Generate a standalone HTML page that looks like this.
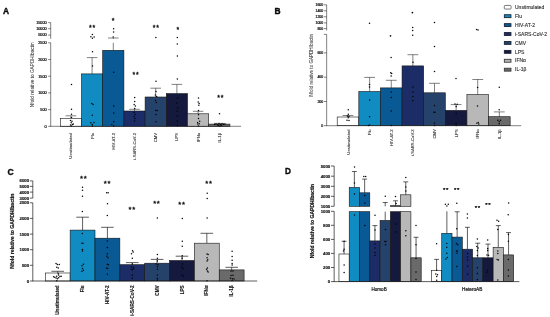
<!DOCTYPE html>
<html><head><meta charset="utf-8"><title>Figure</title>
<style>
html,body{margin:0;padding:0;background:#fff;}
body{width:550px;height:317px;overflow:hidden;}
svg{display:block;font-family:"Liberation Sans",sans-serif;}
</style></head><body>
<svg width="550" height="317" viewBox="0 0 550 317">
<rect x="0" y="0" width="550" height="317" fill="#ffffff"/>
<line x1="344.09" y1="241.30" x2="344.09" y2="254.00" stroke="#1a1a1a" stroke-width="0.7"/>
<line x1="341.64" y1="241.30" x2="346.54" y2="241.30" stroke="#1a1a1a" stroke-width="0.7"/>
<rect x="338.95" y="254.00" width="10.28" height="27.60" fill="#ffffff" stroke="#141414" stroke-width="0.6"/>
<line x1="354.37" y1="171.50" x2="354.37" y2="187.40" stroke="#1a1a1a" stroke-width="0.7"/>
<line x1="351.92" y1="171.50" x2="356.82" y2="171.50" stroke="#1a1a1a" stroke-width="0.7"/>
<rect x="349.23" y="211.70" width="10.28" height="69.90" fill="#108cc2" stroke="#141414" stroke-width="0.6"/>
<rect x="349.23" y="187.40" width="10.28" height="18.90" fill="#108cc2" stroke="#141414" stroke-width="0.6"/>
<line x1="364.65" y1="179.10" x2="364.65" y2="192.80" stroke="#1a1a1a" stroke-width="0.7"/>
<line x1="362.20" y1="179.10" x2="367.10" y2="179.10" stroke="#1a1a1a" stroke-width="0.7"/>
<rect x="359.51" y="211.70" width="10.28" height="69.90" fill="#095995" stroke="#141414" stroke-width="0.6"/>
<rect x="359.51" y="192.80" width="10.28" height="13.50" fill="#095995" stroke="#141414" stroke-width="0.6"/>
<line x1="374.93" y1="225.60" x2="374.93" y2="240.90" stroke="#1a1a1a" stroke-width="0.7"/>
<line x1="372.48" y1="225.60" x2="377.38" y2="225.60" stroke="#1a1a1a" stroke-width="0.7"/>
<rect x="369.79" y="240.90" width="10.28" height="40.70" fill="#1c2c67" stroke="#141414" stroke-width="0.6"/>
<line x1="385.21" y1="202.50" x2="385.21" y2="206.30" stroke="#1a1a1a" stroke-width="0.7"/>
<line x1="385.21" y1="211.70" x2="385.21" y2="220.40" stroke="#1a1a1a" stroke-width="0.7"/>
<line x1="382.76" y1="202.50" x2="387.66" y2="202.50" stroke="#1a1a1a" stroke-width="0.7"/>
<rect x="380.07" y="220.40" width="10.28" height="61.20" fill="#25426b" stroke="#141414" stroke-width="0.6"/>
<line x1="395.49" y1="200.80" x2="395.49" y2="205.70" stroke="#1a1a1a" stroke-width="0.7"/>
<line x1="393.04" y1="200.80" x2="397.94" y2="200.80" stroke="#1a1a1a" stroke-width="0.7"/>
<rect x="390.35" y="211.70" width="10.28" height="69.90" fill="#15193d" stroke="#141414" stroke-width="0.6"/>
<rect x="390.35" y="205.70" width="10.28" height="0.60" fill="#15193d" stroke="#141414" stroke-width="0.6"/>
<line x1="405.77" y1="181.90" x2="405.77" y2="194.80" stroke="#1a1a1a" stroke-width="0.7"/>
<line x1="403.32" y1="181.90" x2="408.22" y2="181.90" stroke="#1a1a1a" stroke-width="0.7"/>
<rect x="400.63" y="211.70" width="10.28" height="69.90" fill="#b8b8b8" stroke="#141414" stroke-width="0.6"/>
<rect x="400.63" y="194.80" width="10.28" height="11.50" fill="#b8b8b8" stroke="#141414" stroke-width="0.6"/>
<line x1="416.05" y1="237.30" x2="416.05" y2="257.80" stroke="#1a1a1a" stroke-width="0.7"/>
<line x1="413.60" y1="237.30" x2="418.50" y2="237.30" stroke="#1a1a1a" stroke-width="0.7"/>
<rect x="410.91" y="257.80" width="10.28" height="23.80" fill="#6a6a6a" stroke="#141414" stroke-width="0.6"/>
<line x1="436.59" y1="259.40" x2="436.59" y2="270.30" stroke="#1a1a1a" stroke-width="0.7"/>
<line x1="434.14" y1="259.40" x2="439.04" y2="259.40" stroke="#1a1a1a" stroke-width="0.7"/>
<rect x="431.45" y="270.30" width="10.28" height="11.30" fill="#ffffff" stroke="#141414" stroke-width="0.6"/>
<line x1="446.87" y1="211.30" x2="446.87" y2="233.30" stroke="#1a1a1a" stroke-width="0.7"/>
<rect x="441.73" y="233.30" width="10.28" height="48.30" fill="#108cc2" stroke="#141414" stroke-width="0.6"/>
<line x1="457.15" y1="211.80" x2="457.15" y2="237.10" stroke="#1a1a1a" stroke-width="0.7"/>
<line x1="454.70" y1="211.80" x2="459.60" y2="211.80" stroke="#1a1a1a" stroke-width="0.7"/>
<rect x="452.01" y="237.10" width="10.28" height="44.50" fill="#095995" stroke="#141414" stroke-width="0.6"/>
<line x1="467.43" y1="227.30" x2="467.43" y2="249.20" stroke="#1a1a1a" stroke-width="0.7"/>
<line x1="464.98" y1="227.30" x2="469.88" y2="227.30" stroke="#1a1a1a" stroke-width="0.7"/>
<rect x="462.29" y="249.20" width="10.28" height="32.40" fill="#1c2c67" stroke="#141414" stroke-width="0.6"/>
<line x1="477.71" y1="243.20" x2="477.71" y2="257.80" stroke="#1a1a1a" stroke-width="0.7"/>
<line x1="475.26" y1="243.20" x2="480.16" y2="243.20" stroke="#1a1a1a" stroke-width="0.7"/>
<rect x="472.57" y="257.80" width="10.28" height="23.80" fill="#25426b" stroke="#141414" stroke-width="0.6"/>
<line x1="487.99" y1="244.10" x2="487.99" y2="257.80" stroke="#1a1a1a" stroke-width="0.7"/>
<line x1="485.54" y1="244.10" x2="490.44" y2="244.10" stroke="#1a1a1a" stroke-width="0.7"/>
<rect x="482.85" y="257.80" width="10.28" height="23.80" fill="#15193d" stroke="#141414" stroke-width="0.6"/>
<line x1="498.27" y1="225.60" x2="498.27" y2="247.30" stroke="#1a1a1a" stroke-width="0.7"/>
<line x1="495.82" y1="225.60" x2="500.72" y2="225.60" stroke="#1a1a1a" stroke-width="0.7"/>
<rect x="493.13" y="247.30" width="10.28" height="34.30" fill="#b8b8b8" stroke="#141414" stroke-width="0.6"/>
<line x1="508.55" y1="232.60" x2="508.55" y2="254.90" stroke="#1a1a1a" stroke-width="0.7"/>
<line x1="506.10" y1="232.60" x2="511.00" y2="232.60" stroke="#1a1a1a" stroke-width="0.7"/>
<rect x="503.41" y="254.90" width="10.28" height="26.70" fill="#6a6a6a" stroke="#141414" stroke-width="0.6"/>
<line x1="70.90" y1="115.80" x2="70.90" y2="118.30" stroke="#1a1a1a" stroke-width="0.55"/>
<line x1="65.60" y1="115.80" x2="76.20" y2="115.80" stroke="#1a1a1a" stroke-width="0.55"/>
<rect x="60.30" y="118.30" width="21.20" height="8.00" fill="#ffffff" stroke="#141414" stroke-width="0.6"/>
<line x1="92.10" y1="57.60" x2="92.10" y2="73.90" stroke="#1a1a1a" stroke-width="0.55"/>
<line x1="86.80" y1="57.60" x2="97.40" y2="57.60" stroke="#1a1a1a" stroke-width="0.55"/>
<rect x="81.50" y="73.90" width="21.20" height="52.40" fill="#108cc2" stroke="#141414" stroke-width="0.6"/>
<line x1="113.30" y1="38.00" x2="113.30" y2="38.80" stroke="#1a1a1a" stroke-width="0.55"/>
<line x1="113.30" y1="42.80" x2="113.30" y2="50.30" stroke="#1a1a1a" stroke-width="0.55"/>
<line x1="108.00" y1="38.00" x2="118.60" y2="38.00" stroke="#1a1a1a" stroke-width="0.55"/>
<rect x="102.70" y="50.30" width="21.20" height="76.00" fill="#095995" stroke="#141414" stroke-width="0.6"/>
<line x1="134.50" y1="109.30" x2="134.50" y2="111.00" stroke="#1a1a1a" stroke-width="0.55"/>
<line x1="129.20" y1="109.30" x2="139.80" y2="109.30" stroke="#1a1a1a" stroke-width="0.55"/>
<rect x="123.90" y="111.00" width="21.20" height="15.30" fill="#1c2c67" stroke="#141414" stroke-width="0.6"/>
<line x1="155.70" y1="88.20" x2="155.70" y2="97.00" stroke="#1a1a1a" stroke-width="0.55"/>
<line x1="150.40" y1="88.20" x2="161.00" y2="88.20" stroke="#1a1a1a" stroke-width="0.55"/>
<rect x="145.10" y="97.00" width="21.20" height="29.30" fill="#25426b" stroke="#141414" stroke-width="0.6"/>
<line x1="176.90" y1="84.40" x2="176.90" y2="93.60" stroke="#1a1a1a" stroke-width="0.55"/>
<line x1="171.60" y1="84.40" x2="182.20" y2="84.40" stroke="#1a1a1a" stroke-width="0.55"/>
<rect x="166.30" y="93.60" width="21.20" height="32.70" fill="#15193d" stroke="#141414" stroke-width="0.6"/>
<line x1="198.10" y1="111.30" x2="198.10" y2="113.80" stroke="#1a1a1a" stroke-width="0.55"/>
<line x1="192.80" y1="111.30" x2="203.40" y2="111.30" stroke="#1a1a1a" stroke-width="0.55"/>
<rect x="187.50" y="113.80" width="21.20" height="12.50" fill="#b8b8b8" stroke="#141414" stroke-width="0.6"/>
<line x1="219.30" y1="123.40" x2="219.30" y2="124.10" stroke="#1a1a1a" stroke-width="0.55"/>
<line x1="214.00" y1="123.40" x2="224.60" y2="123.40" stroke="#1a1a1a" stroke-width="0.55"/>
<rect x="208.70" y="124.10" width="21.20" height="2.20" fill="#6a6a6a" stroke="#141414" stroke-width="0.6"/>
<circle cx="71.50" cy="84.40" r="0.75" fill="#050505"/>
<circle cx="71.50" cy="109.30" r="0.75" fill="#050505"/>
<circle cx="71.50" cy="114.20" r="0.75" fill="#050505"/>
<circle cx="71.50" cy="117.40" r="0.75" fill="#050505"/>
<circle cx="70.50" cy="120.50" r="0.75" fill="#050505"/>
<circle cx="72.00" cy="121.20" r="0.75" fill="#050505"/>
<circle cx="71.20" cy="122.80" r="0.75" fill="#050505"/>
<circle cx="72.40" cy="124.40" r="0.75" fill="#050505"/>
<circle cx="70.50" cy="125.00" r="0.75" fill="#050505"/>
<circle cx="73.30" cy="124.10" r="0.75" fill="#050505"/>
<circle cx="71.50" cy="125.90" r="0.75" fill="#050505"/>
<circle cx="92.40" cy="34.60" r="0.75" fill="#050505"/>
<circle cx="90.90" cy="36.70" r="0.75" fill="#050505"/>
<circle cx="94.10" cy="37.10" r="0.75" fill="#050505"/>
<circle cx="92.40" cy="38.30" r="0.75" fill="#050505"/>
<circle cx="92.50" cy="51.70" r="0.75" fill="#050505"/>
<circle cx="92.50" cy="65.90" r="0.75" fill="#050505"/>
<circle cx="91.80" cy="103.40" r="0.75" fill="#050505"/>
<circle cx="93.10" cy="104.60" r="0.75" fill="#050505"/>
<circle cx="92.30" cy="115.20" r="0.75" fill="#050505"/>
<circle cx="90.80" cy="122.80" r="0.75" fill="#050505"/>
<circle cx="94.00" cy="122.50" r="0.75" fill="#050505"/>
<circle cx="92.30" cy="124.40" r="0.75" fill="#050505"/>
<circle cx="92.30" cy="126.00" r="0.75" fill="#050505"/>
<circle cx="113.60" cy="28.80" r="0.75" fill="#050505"/>
<circle cx="113.60" cy="31.90" r="0.75" fill="#050505"/>
<circle cx="113.20" cy="37.10" r="0.75" fill="#050505"/>
<circle cx="113.70" cy="72.30" r="0.75" fill="#050505"/>
<circle cx="113.70" cy="105.90" r="0.75" fill="#050505"/>
<circle cx="113.70" cy="112.90" r="0.75" fill="#050505"/>
<circle cx="113.70" cy="121.80" r="0.75" fill="#050505"/>
<circle cx="111.80" cy="124.40" r="0.75" fill="#050505"/>
<circle cx="113.70" cy="126.00" r="0.75" fill="#050505"/>
<circle cx="134.70" cy="97.60" r="0.75" fill="#050505"/>
<circle cx="134.70" cy="101.50" r="0.75" fill="#050505"/>
<circle cx="134.10" cy="104.60" r="0.75" fill="#050505"/>
<circle cx="135.40" cy="105.90" r="0.75" fill="#050505"/>
<circle cx="134.70" cy="108.50" r="0.75" fill="#050505"/>
<circle cx="134.20" cy="112.50" r="0.75" fill="#050505"/>
<circle cx="135.20" cy="114.50" r="0.75" fill="#050505"/>
<circle cx="134.00" cy="116.50" r="0.75" fill="#050505"/>
<circle cx="134.90" cy="118.50" r="0.75" fill="#050505"/>
<circle cx="134.50" cy="121.00" r="0.75" fill="#050505"/>
<circle cx="155.90" cy="37.40" r="0.75" fill="#050505"/>
<circle cx="156.00" cy="81.20" r="0.75" fill="#050505"/>
<circle cx="156.00" cy="91.50" r="0.75" fill="#050505"/>
<circle cx="155.40" cy="95.00" r="0.75" fill="#050505"/>
<circle cx="156.60" cy="96.50" r="0.75" fill="#050505"/>
<circle cx="155.50" cy="100.50" r="0.75" fill="#050505"/>
<circle cx="156.30" cy="102.50" r="0.75" fill="#050505"/>
<circle cx="155.80" cy="110.50" r="0.75" fill="#050505"/>
<circle cx="157.20" cy="110.50" r="0.75" fill="#050505"/>
<circle cx="155.90" cy="114.50" r="0.75" fill="#050505"/>
<circle cx="155.90" cy="121.80" r="0.75" fill="#050505"/>
<circle cx="177.30" cy="37.60" r="0.75" fill="#050505"/>
<circle cx="177.30" cy="44.00" r="0.75" fill="#050505"/>
<circle cx="177.40" cy="56.00" r="0.75" fill="#050505"/>
<circle cx="177.40" cy="79.00" r="0.75" fill="#050505"/>
<circle cx="177.50" cy="98.00" r="0.75" fill="#050505"/>
<circle cx="176.80" cy="103.00" r="0.75" fill="#050505"/>
<circle cx="177.60" cy="108.00" r="0.75" fill="#050505"/>
<circle cx="177.00" cy="111.00" r="0.75" fill="#050505"/>
<circle cx="177.40" cy="116.00" r="0.75" fill="#050505"/>
<circle cx="177.40" cy="121.00" r="0.75" fill="#050505"/>
<circle cx="177.40" cy="125.50" r="0.75" fill="#050505"/>
<circle cx="198.50" cy="97.90" r="0.75" fill="#050505"/>
<circle cx="198.20" cy="102.10" r="0.75" fill="#050505"/>
<circle cx="199.10" cy="103.40" r="0.75" fill="#050505"/>
<circle cx="198.80" cy="105.30" r="0.75" fill="#050505"/>
<circle cx="198.50" cy="110.40" r="0.75" fill="#050505"/>
<circle cx="198.50" cy="114.80" r="0.75" fill="#050505"/>
<circle cx="198.50" cy="118.60" r="0.75" fill="#050505"/>
<circle cx="197.60" cy="122.50" r="0.75" fill="#050505"/>
<circle cx="199.70" cy="121.20" r="0.75" fill="#050505"/>
<circle cx="197.80" cy="124.10" r="0.75" fill="#050505"/>
<circle cx="199.30" cy="123.80" r="0.75" fill="#050505"/>
<circle cx="198.50" cy="126.00" r="0.75" fill="#050505"/>
<circle cx="219.50" cy="113.80" r="0.75" fill="#050505"/>
<circle cx="214.50" cy="124.60" r="0.75" fill="#050505"/>
<circle cx="216.00" cy="124.00" r="0.75" fill="#050505"/>
<circle cx="217.50" cy="124.80" r="0.75" fill="#050505"/>
<circle cx="219.00" cy="123.60" r="0.75" fill="#050505"/>
<circle cx="220.50" cy="124.50" r="0.75" fill="#050505"/>
<circle cx="222.00" cy="123.80" r="0.75" fill="#050505"/>
<circle cx="223.50" cy="124.60" r="0.75" fill="#050505"/>
<circle cx="225.00" cy="124.00" r="0.75" fill="#050505"/>
<circle cx="218.20" cy="125.60" r="0.75" fill="#050505"/>
<circle cx="221.30" cy="125.60" r="0.75" fill="#050505"/>
<circle cx="219.80" cy="125.90" r="0.75" fill="#050505"/>
<text x="92.40" y="29.95" font-size="6.9" text-anchor="middle" font-weight="normal" fill="#0a0a0a" letter-spacing="0.8" stroke="#0a0a0a" stroke-width="0.3">**</text>
<text x="113.20" y="23.35" font-size="6.9" text-anchor="middle" font-weight="normal" fill="#0a0a0a" letter-spacing="0" stroke="#0a0a0a" stroke-width="0.3">*</text>
<text x="136.10" y="77.25" font-size="6.9" text-anchor="middle" font-weight="normal" fill="#0a0a0a" letter-spacing="0.8" stroke="#0a0a0a" stroke-width="0.3">**</text>
<text x="156.20" y="30.25" font-size="6.9" text-anchor="middle" font-weight="normal" fill="#0a0a0a" letter-spacing="0.8" stroke="#0a0a0a" stroke-width="0.3">**</text>
<text x="177.80" y="31.65" font-size="6.9" text-anchor="middle" font-weight="normal" fill="#0a0a0a" letter-spacing="0" stroke="#0a0a0a" stroke-width="0.3">*</text>
<text x="220.70" y="100.45" font-size="6.9" text-anchor="middle" font-weight="normal" fill="#0a0a0a" letter-spacing="0.8" stroke="#0a0a0a" stroke-width="0.3">**</text>
<line x1="348.01" y1="115.50" x2="348.01" y2="117.00" stroke="#1a1a1a" stroke-width="0.55"/>
<line x1="342.61" y1="115.50" x2="353.41" y2="115.50" stroke="#1a1a1a" stroke-width="0.55"/>
<rect x="337.20" y="117.00" width="21.62" height="8.70" fill="#ffffff" stroke="#141414" stroke-width="0.6"/>
<line x1="369.63" y1="77.40" x2="369.63" y2="91.50" stroke="#1a1a1a" stroke-width="0.55"/>
<line x1="364.23" y1="77.40" x2="375.03" y2="77.40" stroke="#1a1a1a" stroke-width="0.55"/>
<rect x="358.82" y="91.50" width="21.62" height="34.20" fill="#108cc2" stroke="#141414" stroke-width="0.6"/>
<line x1="391.25" y1="80.30" x2="391.25" y2="87.90" stroke="#1a1a1a" stroke-width="0.55"/>
<line x1="385.85" y1="80.30" x2="396.65" y2="80.30" stroke="#1a1a1a" stroke-width="0.55"/>
<rect x="380.44" y="87.90" width="21.62" height="37.80" fill="#095995" stroke="#141414" stroke-width="0.6"/>
<line x1="412.87" y1="54.70" x2="412.87" y2="65.90" stroke="#1a1a1a" stroke-width="0.55"/>
<line x1="407.47" y1="54.70" x2="418.27" y2="54.70" stroke="#1a1a1a" stroke-width="0.55"/>
<rect x="402.06" y="65.90" width="21.62" height="59.80" fill="#1c2c67" stroke="#141414" stroke-width="0.6"/>
<line x1="434.49" y1="83.30" x2="434.49" y2="92.80" stroke="#1a1a1a" stroke-width="0.55"/>
<line x1="429.09" y1="83.30" x2="439.89" y2="83.30" stroke="#1a1a1a" stroke-width="0.55"/>
<rect x="423.68" y="92.80" width="21.62" height="32.90" fill="#25426b" stroke="#141414" stroke-width="0.6"/>
<line x1="456.11" y1="104.60" x2="456.11" y2="110.40" stroke="#1a1a1a" stroke-width="0.55"/>
<line x1="450.71" y1="104.60" x2="461.51" y2="104.60" stroke="#1a1a1a" stroke-width="0.55"/>
<rect x="445.30" y="110.40" width="21.62" height="15.30" fill="#15193d" stroke="#141414" stroke-width="0.6"/>
<line x1="477.73" y1="79.50" x2="477.73" y2="94.50" stroke="#1a1a1a" stroke-width="0.55"/>
<line x1="472.33" y1="79.50" x2="483.13" y2="79.50" stroke="#1a1a1a" stroke-width="0.55"/>
<rect x="466.92" y="94.50" width="21.62" height="31.20" fill="#b8b8b8" stroke="#141414" stroke-width="0.6"/>
<line x1="499.35" y1="111.90" x2="499.35" y2="116.70" stroke="#1a1a1a" stroke-width="0.55"/>
<line x1="493.95" y1="111.90" x2="504.75" y2="111.90" stroke="#1a1a1a" stroke-width="0.55"/>
<rect x="488.54" y="116.70" width="21.62" height="9.00" fill="#6a6a6a" stroke="#141414" stroke-width="0.6"/>
<circle cx="348.30" cy="109.70" r="0.75" fill="#050505"/>
<circle cx="348.30" cy="114.20" r="0.75" fill="#050505"/>
<circle cx="347.40" cy="116.10" r="0.75" fill="#050505"/>
<circle cx="349.00" cy="116.50" r="0.75" fill="#050505"/>
<circle cx="348.30" cy="117.70" r="0.75" fill="#050505"/>
<circle cx="347.00" cy="120.30" r="0.75" fill="#050505"/>
<circle cx="349.00" cy="120.50" r="0.75" fill="#050505"/>
<circle cx="369.50" cy="23.20" r="0.75" fill="#050505"/>
<circle cx="369.50" cy="84.40" r="0.75" fill="#050505"/>
<circle cx="369.50" cy="86.90" r="0.75" fill="#050505"/>
<circle cx="369.60" cy="99.90" r="0.75" fill="#050505"/>
<circle cx="369.60" cy="116.70" r="0.75" fill="#050505"/>
<circle cx="369.60" cy="125.00" r="0.75" fill="#050505"/>
<circle cx="368.40" cy="125.60" r="0.75" fill="#050505"/>
<circle cx="390.50" cy="35.90" r="0.8" fill="#050505"/>
<circle cx="391.10" cy="57.60" r="0.75" fill="#050505"/>
<circle cx="390.70" cy="72.70" r="0.75" fill="#050505"/>
<circle cx="391.70" cy="73.50" r="0.75" fill="#050505"/>
<circle cx="391.10" cy="76.10" r="0.75" fill="#050505"/>
<circle cx="391.20" cy="91.90" r="0.75" fill="#050505"/>
<circle cx="391.20" cy="97.60" r="0.75" fill="#050505"/>
<circle cx="391.20" cy="111.00" r="0.75" fill="#050505"/>
<circle cx="391.20" cy="125.60" r="0.75" fill="#050505"/>
<circle cx="412.40" cy="12.60" r="0.85" fill="#050505"/>
<circle cx="412.70" cy="27.50" r="0.75" fill="#050505"/>
<circle cx="412.70" cy="30.50" r="0.75" fill="#050505"/>
<circle cx="412.70" cy="35.30" r="0.75" fill="#050505"/>
<circle cx="413.00" cy="62.30" r="0.75" fill="#050505"/>
<circle cx="413.00" cy="86.90" r="0.75" fill="#050505"/>
<circle cx="412.80" cy="91.90" r="0.75" fill="#050505"/>
<circle cx="412.80" cy="96.40" r="0.75" fill="#050505"/>
<circle cx="412.80" cy="100.80" r="0.75" fill="#050505"/>
<circle cx="434.50" cy="22.50" r="0.75" fill="#050505"/>
<circle cx="434.50" cy="46.50" r="0.75" fill="#050505"/>
<circle cx="434.50" cy="71.40" r="0.75" fill="#050505"/>
<circle cx="434.50" cy="105.50" r="0.75" fill="#050505"/>
<circle cx="434.00" cy="112.30" r="0.75" fill="#050505"/>
<circle cx="435.00" cy="112.30" r="0.75" fill="#050505"/>
<circle cx="434.50" cy="123.10" r="0.75" fill="#050505"/>
<circle cx="434.50" cy="125.60" r="0.75" fill="#050505"/>
<circle cx="456.00" cy="78.60" r="0.75" fill="#050505"/>
<circle cx="455.00" cy="104.00" r="0.75" fill="#050505"/>
<circle cx="457.20" cy="104.30" r="0.75" fill="#050505"/>
<circle cx="456.20" cy="106.50" r="0.75" fill="#050505"/>
<circle cx="456.20" cy="113.50" r="0.75" fill="#050505"/>
<circle cx="456.20" cy="123.30" r="0.75" fill="#050505"/>
<circle cx="456.20" cy="125.60" r="0.75" fill="#050505"/>
<circle cx="476.60" cy="29.60" r="0.75" fill="#050505"/>
<circle cx="478.00" cy="29.90" r="0.75" fill="#050505"/>
<circle cx="477.60" cy="87.50" r="0.75" fill="#050505"/>
<circle cx="477.50" cy="105.90" r="0.75" fill="#050505"/>
<circle cx="476.90" cy="123.30" r="0.75" fill="#050505"/>
<circle cx="478.20" cy="122.50" r="0.75" fill="#050505"/>
<circle cx="478.80" cy="124.10" r="0.75" fill="#050505"/>
<circle cx="499.30" cy="87.20" r="0.75" fill="#050505"/>
<circle cx="499.20" cy="109.70" r="0.75" fill="#050505"/>
<circle cx="497.90" cy="120.30" r="0.75" fill="#050505"/>
<circle cx="500.50" cy="120.30" r="0.75" fill="#050505"/>
<circle cx="499.20" cy="121.80" r="0.75" fill="#050505"/>
<circle cx="499.20" cy="123.70" r="0.75" fill="#050505"/>
<line x1="57.72" y1="271.30" x2="57.72" y2="273.00" stroke="#1a1a1a" stroke-width="0.7"/>
<line x1="51.42" y1="271.30" x2="64.02" y2="271.30" stroke="#1a1a1a" stroke-width="0.7"/>
<rect x="45.30" y="273.00" width="24.85" height="8.00" fill="#ffffff" stroke="#141414" stroke-width="0.6"/>
<line x1="82.58" y1="217.20" x2="82.58" y2="230.10" stroke="#1a1a1a" stroke-width="0.7"/>
<line x1="76.28" y1="217.20" x2="88.88" y2="217.20" stroke="#1a1a1a" stroke-width="0.7"/>
<rect x="70.15" y="230.10" width="24.85" height="50.90" fill="#108cc2" stroke="#141414" stroke-width="0.6"/>
<line x1="107.42" y1="227.30" x2="107.42" y2="238.20" stroke="#1a1a1a" stroke-width="0.7"/>
<line x1="101.12" y1="227.30" x2="113.72" y2="227.30" stroke="#1a1a1a" stroke-width="0.7"/>
<rect x="95.00" y="238.20" width="24.85" height="42.80" fill="#095995" stroke="#141414" stroke-width="0.6"/>
<line x1="132.28" y1="262.60" x2="132.28" y2="264.70" stroke="#1a1a1a" stroke-width="0.7"/>
<line x1="125.98" y1="262.60" x2="138.58" y2="262.60" stroke="#1a1a1a" stroke-width="0.7"/>
<rect x="119.85" y="264.70" width="24.85" height="16.30" fill="#1c2c67" stroke="#141414" stroke-width="0.6"/>
<line x1="157.12" y1="259.40" x2="157.12" y2="263.20" stroke="#1a1a1a" stroke-width="0.7"/>
<line x1="150.82" y1="259.40" x2="163.43" y2="259.40" stroke="#1a1a1a" stroke-width="0.7"/>
<rect x="144.70" y="263.20" width="24.85" height="17.80" fill="#25426b" stroke="#141414" stroke-width="0.6"/>
<line x1="181.98" y1="256.20" x2="181.98" y2="260.50" stroke="#1a1a1a" stroke-width="0.7"/>
<line x1="175.68" y1="256.20" x2="188.28" y2="256.20" stroke="#1a1a1a" stroke-width="0.7"/>
<rect x="169.55" y="260.50" width="24.85" height="20.50" fill="#15193d" stroke="#141414" stroke-width="0.6"/>
<line x1="206.83" y1="233.30" x2="206.83" y2="243.20" stroke="#1a1a1a" stroke-width="0.7"/>
<line x1="200.53" y1="233.30" x2="213.13" y2="233.30" stroke="#1a1a1a" stroke-width="0.7"/>
<rect x="194.40" y="243.20" width="24.85" height="37.80" fill="#b8b8b8" stroke="#141414" stroke-width="0.6"/>
<line x1="231.68" y1="267.30" x2="231.68" y2="269.90" stroke="#1a1a1a" stroke-width="0.7"/>
<line x1="225.38" y1="267.30" x2="237.98" y2="267.30" stroke="#1a1a1a" stroke-width="0.7"/>
<rect x="219.25" y="269.90" width="24.85" height="11.10" fill="#6a6a6a" stroke="#141414" stroke-width="0.6"/>
<circle cx="56.09" cy="263.45" r="0.75" fill="#050505"/>
<circle cx="57.36" cy="264.47" r="0.75" fill="#050505"/>
<circle cx="59.27" cy="264.47" r="0.75" fill="#050505"/>
<circle cx="56.73" cy="267.27" r="0.75" fill="#050505"/>
<circle cx="58.26" cy="267.91" r="0.75" fill="#050505"/>
<circle cx="58.26" cy="273.64" r="0.75" fill="#050505"/>
<circle cx="58.64" cy="274.91" r="0.75" fill="#050505"/>
<circle cx="53.55" cy="276.82" r="0.75" fill="#050505"/>
<circle cx="54.82" cy="277.20" r="0.75" fill="#050505"/>
<circle cx="56.73" cy="276.18" r="0.75" fill="#050505"/>
<circle cx="59.91" cy="276.44" r="0.75" fill="#050505"/>
<circle cx="61.18" cy="276.18" r="0.75" fill="#050505"/>
<circle cx="56.09" cy="278.09" r="0.75" fill="#050505"/>
<circle cx="57.36" cy="278.73" r="0.75" fill="#050505"/>
<circle cx="58.64" cy="277.84" r="0.75" fill="#050505"/>
<circle cx="56.73" cy="280.64" r="0.75" fill="#050505"/>
<circle cx="82.44" cy="249.45" r="0.75" fill="#050505"/>
<circle cx="82.44" cy="251.11" r="0.75" fill="#050505"/>
<circle cx="83.46" cy="264.35" r="0.75" fill="#050505"/>
<circle cx="81.93" cy="265.75" r="0.75" fill="#050505"/>
<circle cx="82.44" cy="268.55" r="0.75" fill="#050505"/>
<circle cx="83.46" cy="270.20" r="0.75" fill="#050505"/>
<circle cx="81.93" cy="271.35" r="0.75" fill="#050505"/>
<circle cx="82.40" cy="211.60" r="0.75" fill="#050505"/>
<circle cx="82.40" cy="233.60" r="0.75" fill="#050505"/>
<circle cx="81.90" cy="243.20" r="0.75" fill="#050505"/>
<circle cx="83.00" cy="243.20" r="0.75" fill="#050505"/>
<circle cx="82.50" cy="187.30" r="0.75" fill="#050505"/>
<circle cx="82.50" cy="190.20" r="0.75" fill="#050505"/>
<circle cx="82.50" cy="196.20" r="0.75" fill="#050505"/>
<circle cx="107.35" cy="247.55" r="0.75" fill="#050505"/>
<circle cx="107.35" cy="253.65" r="0.75" fill="#050505"/>
<circle cx="106.84" cy="256.20" r="0.75" fill="#050505"/>
<circle cx="108.11" cy="257.73" r="0.75" fill="#050505"/>
<circle cx="107.35" cy="264.35" r="0.75" fill="#050505"/>
<circle cx="108.36" cy="264.73" r="0.75" fill="#050505"/>
<circle cx="106.45" cy="267.91" r="0.75" fill="#050505"/>
<circle cx="107.73" cy="268.55" r="0.75" fill="#050505"/>
<circle cx="107.35" cy="274.27" r="0.75" fill="#050505"/>
<circle cx="107.30" cy="215.40" r="0.75" fill="#050505"/>
<circle cx="106.70" cy="192.70" r="0.75" fill="#050505"/>
<circle cx="108.10" cy="192.70" r="0.75" fill="#050505"/>
<circle cx="107.50" cy="203.80" r="0.75" fill="#050505"/>
<circle cx="107.30" cy="241.00" r="0.75" fill="#050505"/>
<circle cx="132.55" cy="250.73" r="0.75" fill="#050505"/>
<circle cx="133.18" cy="252.00" r="0.75" fill="#050505"/>
<circle cx="131.53" cy="253.65" r="0.75" fill="#050505"/>
<circle cx="132.29" cy="258.36" r="0.75" fill="#050505"/>
<circle cx="132.29" cy="264.09" r="0.75" fill="#050505"/>
<circle cx="131.27" cy="266.64" r="0.75" fill="#050505"/>
<circle cx="133.18" cy="267.27" r="0.75" fill="#050505"/>
<circle cx="131.27" cy="269.18" r="0.75" fill="#050505"/>
<circle cx="132.55" cy="269.82" r="0.75" fill="#050505"/>
<circle cx="133.82" cy="268.55" r="0.75" fill="#050505"/>
<circle cx="132.29" cy="274.91" r="0.75" fill="#050505"/>
<circle cx="132.29" cy="278.35" r="0.75" fill="#050505"/>
<circle cx="157.36" cy="254.55" r="0.75" fill="#050505"/>
<circle cx="157.36" cy="258.36" r="0.75" fill="#050505"/>
<circle cx="157.36" cy="260.91" r="0.75" fill="#050505"/>
<circle cx="156.09" cy="264.09" r="0.75" fill="#050505"/>
<circle cx="158.00" cy="264.73" r="0.75" fill="#050505"/>
<circle cx="157.36" cy="266.64" r="0.75" fill="#050505"/>
<circle cx="157.36" cy="269.18" r="0.75" fill="#050505"/>
<circle cx="157.36" cy="274.91" r="0.75" fill="#050505"/>
<circle cx="157.36" cy="278.35" r="0.75" fill="#050505"/>
<circle cx="157.36" cy="280.00" r="0.75" fill="#050505"/>
<circle cx="157.40" cy="218.00" r="0.75" fill="#050505"/>
<circle cx="182.27" cy="246.27" r="0.75" fill="#050505"/>
<circle cx="182.27" cy="255.82" r="0.75" fill="#050505"/>
<circle cx="182.27" cy="258.36" r="0.75" fill="#050505"/>
<circle cx="182.65" cy="264.09" r="0.75" fill="#050505"/>
<circle cx="181.89" cy="267.27" r="0.75" fill="#050505"/>
<circle cx="182.91" cy="268.55" r="0.75" fill="#050505"/>
<circle cx="181.89" cy="274.91" r="0.75" fill="#050505"/>
<circle cx="183.16" cy="276.18" r="0.75" fill="#050505"/>
<circle cx="182.30" cy="218.40" r="0.75" fill="#050505"/>
<circle cx="182.30" cy="241.30" r="0.75" fill="#050505"/>
<circle cx="207.09" cy="253.91" r="0.75" fill="#050505"/>
<circle cx="208.11" cy="254.55" r="0.75" fill="#050505"/>
<circle cx="207.09" cy="257.73" r="0.75" fill="#050505"/>
<circle cx="207.73" cy="259.64" r="0.75" fill="#050505"/>
<circle cx="207.09" cy="260.91" r="0.75" fill="#050505"/>
<circle cx="207.35" cy="267.91" r="0.75" fill="#050505"/>
<circle cx="206.58" cy="269.18" r="0.75" fill="#050505"/>
<circle cx="207.35" cy="271.09" r="0.75" fill="#050505"/>
<circle cx="208.11" cy="271.98" r="0.75" fill="#050505"/>
<circle cx="207.09" cy="280.64" r="0.75" fill="#050505"/>
<circle cx="207.10" cy="218.00" r="0.75" fill="#050505"/>
<circle cx="207.20" cy="193.30" r="0.75" fill="#050505"/>
<circle cx="207.20" cy="198.50" r="0.75" fill="#050505"/>
<circle cx="232.11" cy="251.36" r="0.75" fill="#050505"/>
<circle cx="232.11" cy="256.45" r="0.75" fill="#050505"/>
<circle cx="232.11" cy="260.27" r="0.75" fill="#050505"/>
<circle cx="232.11" cy="263.45" r="0.75" fill="#050505"/>
<circle cx="232.11" cy="265.11" r="0.75" fill="#050505"/>
<circle cx="231.09" cy="271.09" r="0.75" fill="#050505"/>
<circle cx="233.00" cy="271.09" r="0.75" fill="#050505"/>
<circle cx="231.09" cy="275.55" r="0.75" fill="#050505"/>
<circle cx="233.00" cy="275.29" r="0.75" fill="#050505"/>
<circle cx="230.46" cy="278.35" r="0.75" fill="#050505"/>
<circle cx="232.36" cy="278.73" r="0.75" fill="#050505"/>
<circle cx="234.02" cy="279.11" r="0.75" fill="#050505"/>
<circle cx="232.11" cy="280.38" r="0.75" fill="#050505"/>
<text x="83.65" y="181.15" font-size="7.7" text-anchor="middle" font-weight="normal" fill="#0a0a0a" letter-spacing="0.7" stroke="#0a0a0a" stroke-width="0.3">**</text>
<text x="107.55" y="185.55" font-size="7.7" text-anchor="middle" font-weight="normal" fill="#0a0a0a" letter-spacing="0.7" stroke="#0a0a0a" stroke-width="0.3">**</text>
<text x="132.25" y="212.45" font-size="7.7" text-anchor="middle" font-weight="normal" fill="#0a0a0a" letter-spacing="0.7" stroke="#0a0a0a" stroke-width="0.3">**</text>
<text x="156.85" y="206.15" font-size="7.7" text-anchor="middle" font-weight="normal" fill="#0a0a0a" letter-spacing="0.7" stroke="#0a0a0a" stroke-width="0.3">**</text>
<text x="181.95" y="206.75" font-size="7.7" text-anchor="middle" font-weight="normal" fill="#0a0a0a" letter-spacing="0.7" stroke="#0a0a0a" stroke-width="0.3">**</text>
<text x="208.95" y="186.25" font-size="7.7" text-anchor="middle" font-weight="normal" fill="#0a0a0a" letter-spacing="0.7" stroke="#0a0a0a" stroke-width="0.3">**</text>
<circle cx="344.10" cy="241.30" r="0.75" fill="#050505"/>
<circle cx="344.10" cy="249.20" r="0.75" fill="#050505"/>
<circle cx="343.50" cy="251.10" r="0.75" fill="#050505"/>
<circle cx="344.10" cy="264.90" r="0.75" fill="#050505"/>
<circle cx="344.10" cy="272.60" r="0.75" fill="#050505"/>
<circle cx="354.50" cy="167.00" r="0.75" fill="#050505"/>
<circle cx="354.50" cy="182.90" r="0.75" fill="#050505"/>
<circle cx="354.50" cy="194.10" r="0.75" fill="#050505"/>
<circle cx="354.50" cy="215.00" r="0.75" fill="#050505"/>
<circle cx="363.80" cy="176.50" r="0.75" fill="#050505"/>
<circle cx="365.70" cy="176.50" r="0.75" fill="#050505"/>
<circle cx="364.70" cy="195.40" r="0.75" fill="#050505"/>
<circle cx="364.80" cy="203.00" r="0.75" fill="#050505"/>
<circle cx="364.80" cy="225.50" r="0.75" fill="#050505"/>
<circle cx="375.00" cy="215.30" r="0.75" fill="#050505"/>
<circle cx="375.00" cy="230.10" r="0.75" fill="#050505"/>
<circle cx="375.00" cy="244.10" r="0.75" fill="#050505"/>
<circle cx="375.00" cy="247.90" r="0.75" fill="#050505"/>
<circle cx="375.00" cy="252.40" r="0.75" fill="#050505"/>
<circle cx="375.00" cy="255.30" r="0.75" fill="#050505"/>
<circle cx="385.30" cy="196.20" r="0.75" fill="#050505"/>
<circle cx="385.50" cy="229.60" r="0.75" fill="#050505"/>
<circle cx="384.90" cy="241.50" r="0.75" fill="#050505"/>
<circle cx="385.90" cy="241.50" r="0.75" fill="#050505"/>
<circle cx="385.50" cy="244.70" r="0.75" fill="#050505"/>
<circle cx="395.50" cy="196.40" r="0.75" fill="#050505"/>
<circle cx="396.10" cy="203.40" r="0.75" fill="#050505"/>
<circle cx="395.60" cy="224.00" r="0.75" fill="#050505"/>
<circle cx="395.60" cy="232.00" r="0.75" fill="#050505"/>
<circle cx="405.80" cy="177.40" r="0.75" fill="#050505"/>
<circle cx="405.80" cy="187.00" r="0.75" fill="#050505"/>
<circle cx="405.80" cy="191.00" r="0.75" fill="#050505"/>
<circle cx="405.80" cy="230.70" r="0.75" fill="#050505"/>
<circle cx="405.80" cy="235.80" r="0.75" fill="#050505"/>
<circle cx="416.00" cy="225.50" r="0.75" fill="#050505"/>
<circle cx="416.00" cy="244.70" r="0.75" fill="#050505"/>
<circle cx="416.00" cy="258.50" r="0.75" fill="#050505"/>
<circle cx="416.00" cy="272.00" r="0.75" fill="#050505"/>
<circle cx="416.00" cy="279.50" r="0.75" fill="#050505"/>
<circle cx="436.60" cy="243.80" r="0.75" fill="#050505"/>
<circle cx="436.70" cy="270.30" r="0.75" fill="#050505"/>
<circle cx="435.80" cy="274.10" r="0.75" fill="#050505"/>
<circle cx="437.50" cy="274.70" r="0.75" fill="#050505"/>
<circle cx="436.70" cy="276.60" r="0.75" fill="#050505"/>
<circle cx="436.70" cy="280.20" r="0.75" fill="#050505"/>
<circle cx="445.40" cy="204.20" r="0.75" fill="#050505"/>
<circle cx="446.90" cy="206.10" r="0.75" fill="#050505"/>
<circle cx="448.30" cy="204.20" r="0.75" fill="#050505"/>
<circle cx="446.80" cy="243.50" r="0.75" fill="#050505"/>
<circle cx="446.80" cy="247.30" r="0.75" fill="#050505"/>
<circle cx="446.80" cy="253.30" r="0.75" fill="#050505"/>
<circle cx="447.40" cy="257.50" r="0.75" fill="#050505"/>
<circle cx="445.90" cy="259.10" r="0.75" fill="#050505"/>
<circle cx="456.80" cy="203.20" r="0.75" fill="#050505"/>
<circle cx="456.70" cy="228.80" r="0.75" fill="#050505"/>
<circle cx="456.50" cy="243.50" r="0.75" fill="#050505"/>
<circle cx="457.70" cy="244.70" r="0.75" fill="#050505"/>
<circle cx="456.50" cy="251.10" r="0.75" fill="#050505"/>
<circle cx="457.40" cy="251.10" r="0.75" fill="#050505"/>
<circle cx="457.00" cy="253.30" r="0.75" fill="#050505"/>
<circle cx="456.80" cy="266.50" r="0.75" fill="#050505"/>
<circle cx="467.40" cy="214.10" r="0.75" fill="#050505"/>
<circle cx="467.40" cy="217.90" r="0.75" fill="#050505"/>
<circle cx="467.60" cy="260.10" r="0.75" fill="#050505"/>
<circle cx="467.60" cy="266.20" r="0.75" fill="#050505"/>
<circle cx="467.60" cy="274.30" r="0.75" fill="#050505"/>
<circle cx="467.50" cy="253.50" r="0.75" fill="#050505"/>
<circle cx="467.50" cy="257.00" r="0.75" fill="#050505"/>
<circle cx="477.40" cy="239.00" r="0.75" fill="#050505"/>
<circle cx="476.80" cy="246.40" r="0.75" fill="#050505"/>
<circle cx="478.10" cy="247.90" r="0.75" fill="#050505"/>
<circle cx="477.40" cy="250.50" r="0.75" fill="#050505"/>
<circle cx="477.40" cy="255.50" r="0.75" fill="#050505"/>
<circle cx="477.40" cy="267.70" r="0.75" fill="#050505"/>
<circle cx="477.40" cy="273.50" r="0.75" fill="#050505"/>
<circle cx="477.40" cy="279.40" r="0.75" fill="#050505"/>
<circle cx="487.70" cy="240.00" r="0.75" fill="#050505"/>
<circle cx="487.70" cy="248.50" r="0.75" fill="#050505"/>
<circle cx="487.70" cy="250.50" r="0.75" fill="#050505"/>
<circle cx="487.00" cy="254.90" r="0.75" fill="#050505"/>
<circle cx="488.60" cy="255.30" r="0.75" fill="#050505"/>
<circle cx="487.60" cy="270.30" r="0.75" fill="#050505"/>
<circle cx="486.70" cy="272.20" r="0.75" fill="#050505"/>
<circle cx="497.00" cy="220.30" r="0.75" fill="#050505"/>
<circle cx="498.60" cy="221.20" r="0.75" fill="#050505"/>
<circle cx="497.80" cy="229.50" r="0.75" fill="#050505"/>
<circle cx="497.80" cy="251.10" r="0.75" fill="#050505"/>
<circle cx="497.80" cy="253.60" r="0.75" fill="#050505"/>
<circle cx="497.20" cy="259.40" r="0.75" fill="#050505"/>
<circle cx="498.40" cy="260.00" r="0.75" fill="#050505"/>
<circle cx="497.80" cy="280.00" r="0.75" fill="#050505"/>
<circle cx="508.60" cy="203.10" r="0.75" fill="#050505"/>
<circle cx="508.20" cy="214.80" r="0.75" fill="#050505"/>
<circle cx="508.40" cy="234.50" r="0.75" fill="#050505"/>
<circle cx="508.40" cy="241.30" r="0.75" fill="#050505"/>
<circle cx="508.40" cy="259.40" r="0.75" fill="#050505"/>
<circle cx="508.40" cy="270.00" r="0.75" fill="#050505"/>
<circle cx="508.40" cy="276.00" r="0.75" fill="#050505"/>
<text x="446.00" y="191.95" font-size="6.1" text-anchor="middle" font-weight="normal" fill="#0a0a0a" letter-spacing="0.6" stroke="#0a0a0a" stroke-width="0.25">**</text>
<text x="456.90" y="191.95" font-size="6.1" text-anchor="middle" font-weight="normal" fill="#0a0a0a" letter-spacing="0.6" stroke="#0a0a0a" stroke-width="0.25">**</text>
<text x="477.70" y="210.45" font-size="6.1" text-anchor="middle" font-weight="normal" fill="#0a0a0a" letter-spacing="0.6" stroke="#0a0a0a" stroke-width="0.25">**</text>
<text x="488.30" y="206.85" font-size="6.1" text-anchor="middle" font-weight="normal" fill="#0a0a0a" letter-spacing="0.6" stroke="#0a0a0a" stroke-width="0.25">**</text>
<line x1="50.70" y1="42.80" x2="50.70" y2="126.55" stroke="#1a1a1a" stroke-width="0.55"/>
<line x1="48.20" y1="42.80" x2="50.70" y2="42.80" stroke="#1a1a1a" stroke-width="0.55"/>
<text x="46.70" y="44.17" font-size="3.8" text-anchor="end" font-weight="normal" fill="#1a1a1a" stroke="#1a1a1a" stroke-width="0.22">2500</text>
<line x1="48.20" y1="59.50" x2="50.70" y2="59.50" stroke="#1a1a1a" stroke-width="0.55"/>
<text x="46.70" y="60.87" font-size="3.8" text-anchor="end" font-weight="normal" fill="#1a1a1a" stroke="#1a1a1a" stroke-width="0.22">2000</text>
<line x1="48.20" y1="76.20" x2="50.70" y2="76.20" stroke="#1a1a1a" stroke-width="0.55"/>
<text x="46.70" y="77.57" font-size="3.8" text-anchor="end" font-weight="normal" fill="#1a1a1a" stroke="#1a1a1a" stroke-width="0.22">1500</text>
<line x1="48.20" y1="92.90" x2="50.70" y2="92.90" stroke="#1a1a1a" stroke-width="0.55"/>
<text x="46.70" y="94.27" font-size="3.8" text-anchor="end" font-weight="normal" fill="#1a1a1a" stroke="#1a1a1a" stroke-width="0.22">1000</text>
<line x1="48.20" y1="109.60" x2="50.70" y2="109.60" stroke="#1a1a1a" stroke-width="0.55"/>
<text x="46.70" y="110.97" font-size="3.8" text-anchor="end" font-weight="normal" fill="#1a1a1a" stroke="#1a1a1a" stroke-width="0.22">500</text>
<line x1="48.20" y1="126.30" x2="50.70" y2="126.30" stroke="#1a1a1a" stroke-width="0.55"/>
<text x="46.70" y="127.67" font-size="3.8" text-anchor="end" font-weight="normal" fill="#1a1a1a" stroke="#1a1a1a" stroke-width="0.22">0</text>
<line x1="50.70" y1="22.60" x2="50.70" y2="38.80" stroke="#1a1a1a" stroke-width="0.55"/>
<line x1="48.20" y1="22.60" x2="50.70" y2="22.60" stroke="#1a1a1a" stroke-width="0.55"/>
<text x="46.70" y="23.97" font-size="3.8" text-anchor="end" font-weight="normal" fill="#1a1a1a" stroke="#1a1a1a" stroke-width="0.22">15000</text>
<line x1="48.20" y1="28.70" x2="50.70" y2="28.70" stroke="#1a1a1a" stroke-width="0.55"/>
<text x="46.70" y="30.07" font-size="3.8" text-anchor="end" font-weight="normal" fill="#1a1a1a" stroke="#1a1a1a" stroke-width="0.22">10000</text>
<line x1="48.20" y1="35.10" x2="50.70" y2="35.10" stroke="#1a1a1a" stroke-width="0.55"/>
<text x="46.70" y="36.47" font-size="3.8" text-anchor="end" font-weight="normal" fill="#1a1a1a" stroke="#1a1a1a" stroke-width="0.22">5000</text>
<line x1="50.45" y1="126.30" x2="241.10" y2="126.30" stroke="#1a1a1a" stroke-width="0.55"/>
<text x="34.40" y="74.75" font-size="4.73" text-anchor="middle" font-weight="normal" fill="#383838" transform="rotate(-90 34.40 74.75)" stroke="#383838" stroke-width="0.06">Nfold relative to GAPDH/bactin</text>
<line x1="326.65" y1="34.40" x2="326.65" y2="125.95" stroke="#1a1a1a" stroke-width="0.55"/>
<line x1="323.95" y1="34.40" x2="326.65" y2="34.40" stroke="#1a1a1a" stroke-width="0.55"/>
<line x1="323.95" y1="52.90" x2="326.65" y2="52.90" stroke="#1a1a1a" stroke-width="0.55"/>
<text x="323.25" y="54.16" font-size="3.5" text-anchor="end" font-weight="normal" fill="#1a1a1a" stroke="#1a1a1a" stroke-width="0.22">600</text>
<line x1="323.95" y1="77.20" x2="326.65" y2="77.20" stroke="#1a1a1a" stroke-width="0.55"/>
<text x="323.25" y="78.46" font-size="3.5" text-anchor="end" font-weight="normal" fill="#1a1a1a" stroke="#1a1a1a" stroke-width="0.22">400</text>
<line x1="323.95" y1="101.50" x2="326.65" y2="101.50" stroke="#1a1a1a" stroke-width="0.55"/>
<text x="323.25" y="102.76" font-size="3.5" text-anchor="end" font-weight="normal" fill="#1a1a1a" stroke="#1a1a1a" stroke-width="0.22">200</text>
<line x1="323.95" y1="125.70" x2="326.65" y2="125.70" stroke="#1a1a1a" stroke-width="0.55"/>
<text x="323.25" y="126.96" font-size="3.5" text-anchor="end" font-weight="normal" fill="#1a1a1a" stroke="#1a1a1a" stroke-width="0.22">0</text>
<line x1="326.65" y1="4.80" x2="326.65" y2="30.50" stroke="#1a1a1a" stroke-width="0.55"/>
<line x1="323.95" y1="4.80" x2="326.65" y2="4.80" stroke="#1a1a1a" stroke-width="0.55"/>
<text x="323.25" y="6.06" font-size="3.5" text-anchor="end" font-weight="normal" fill="#1a1a1a" stroke="#1a1a1a" stroke-width="0.22">1600</text>
<line x1="323.95" y1="10.80" x2="326.65" y2="10.80" stroke="#1a1a1a" stroke-width="0.55"/>
<text x="323.25" y="12.06" font-size="3.5" text-anchor="end" font-weight="normal" fill="#1a1a1a" stroke="#1a1a1a" stroke-width="0.22">1400</text>
<line x1="323.95" y1="16.80" x2="326.65" y2="16.80" stroke="#1a1a1a" stroke-width="0.55"/>
<text x="323.25" y="18.06" font-size="3.5" text-anchor="end" font-weight="normal" fill="#1a1a1a" stroke="#1a1a1a" stroke-width="0.22">1200</text>
<line x1="323.95" y1="22.90" x2="326.65" y2="22.90" stroke="#1a1a1a" stroke-width="0.55"/>
<text x="323.25" y="24.16" font-size="3.5" text-anchor="end" font-weight="normal" fill="#1a1a1a" stroke="#1a1a1a" stroke-width="0.22">1000</text>
<line x1="323.95" y1="28.60" x2="326.65" y2="28.60" stroke="#1a1a1a" stroke-width="0.55"/>
<text x="323.25" y="29.86" font-size="3.5" text-anchor="end" font-weight="normal" fill="#1a1a1a" stroke="#1a1a1a" stroke-width="0.22">800</text>
<line x1="326.40" y1="125.70" x2="521.20" y2="125.70" stroke="#1a1a1a" stroke-width="0.55"/>
<text x="313.05" y="65.20" font-size="4.57" text-anchor="middle" font-weight="normal" fill="#383838" transform="rotate(-90 313.05 65.20)" stroke="#383838" stroke-width="0.06">Nfold relative to GAPDH/bactin</text>
<line x1="32.80" y1="202.80" x2="32.80" y2="281.25" stroke="#1a1a1a" stroke-width="0.7"/>
<line x1="29.90" y1="202.80" x2="32.80" y2="202.80" stroke="#1a1a1a" stroke-width="0.7"/>
<text x="29.20" y="204.37" font-size="4.36" text-anchor="end" font-weight="bold" fill="#1a1a1a" stroke="#1a1a1a" stroke-width="0.18">2500</text>
<line x1="29.90" y1="218.40" x2="32.80" y2="218.40" stroke="#1a1a1a" stroke-width="0.7"/>
<text x="29.20" y="219.97" font-size="4.36" text-anchor="end" font-weight="bold" fill="#1a1a1a" stroke="#1a1a1a" stroke-width="0.18">2000</text>
<line x1="29.90" y1="234.10" x2="32.80" y2="234.10" stroke="#1a1a1a" stroke-width="0.7"/>
<text x="29.20" y="235.67" font-size="4.36" text-anchor="end" font-weight="bold" fill="#1a1a1a" stroke="#1a1a1a" stroke-width="0.18">1500</text>
<line x1="29.90" y1="249.70" x2="32.80" y2="249.70" stroke="#1a1a1a" stroke-width="0.7"/>
<text x="29.20" y="251.27" font-size="4.36" text-anchor="end" font-weight="bold" fill="#1a1a1a" stroke="#1a1a1a" stroke-width="0.18">1000</text>
<line x1="29.90" y1="265.30" x2="32.80" y2="265.30" stroke="#1a1a1a" stroke-width="0.7"/>
<text x="29.20" y="266.87" font-size="4.36" text-anchor="end" font-weight="bold" fill="#1a1a1a" stroke="#1a1a1a" stroke-width="0.18">500</text>
<line x1="29.90" y1="281.00" x2="32.80" y2="281.00" stroke="#1a1a1a" stroke-width="0.7"/>
<text x="29.20" y="282.57" font-size="4.36" text-anchor="end" font-weight="bold" fill="#1a1a1a" stroke="#1a1a1a" stroke-width="0.18">0</text>
<line x1="32.80" y1="180.90" x2="32.80" y2="198.10" stroke="#1a1a1a" stroke-width="0.7"/>
<line x1="29.90" y1="180.90" x2="32.80" y2="180.90" stroke="#1a1a1a" stroke-width="0.7"/>
<text x="29.20" y="182.47" font-size="4.36" text-anchor="end" font-weight="bold" fill="#1a1a1a" stroke="#1a1a1a" stroke-width="0.18">6000</text>
<line x1="29.90" y1="186.40" x2="32.80" y2="186.40" stroke="#1a1a1a" stroke-width="0.7"/>
<text x="29.20" y="187.97" font-size="4.36" text-anchor="end" font-weight="bold" fill="#1a1a1a" stroke="#1a1a1a" stroke-width="0.18">5000</text>
<line x1="29.90" y1="192.10" x2="32.80" y2="192.10" stroke="#1a1a1a" stroke-width="0.7"/>
<text x="29.20" y="193.67" font-size="4.36" text-anchor="end" font-weight="bold" fill="#1a1a1a" stroke="#1a1a1a" stroke-width="0.18">4000</text>
<line x1="29.90" y1="198.10" x2="32.80" y2="198.10" stroke="#1a1a1a" stroke-width="0.7"/>
<text x="29.20" y="199.67" font-size="4.36" text-anchor="end" font-weight="bold" fill="#1a1a1a" stroke="#1a1a1a" stroke-width="0.18">3000</text>
<line x1="32.55" y1="281.00" x2="257.20" y2="281.00" stroke="#1a1a1a" stroke-width="0.7"/>
<text x="13.94" y="231.20" font-size="5.12" text-anchor="middle" font-weight="bold" fill="#111" transform="rotate(-90 13.94 231.20)" stroke="#111" stroke-width="0.18">Nfold relative to GAPDH/bactin</text>
<line x1="334.15" y1="211.30" x2="334.15" y2="281.85" stroke="#1a1a1a" stroke-width="0.7"/>
<line x1="330.95" y1="211.30" x2="334.15" y2="211.30" stroke="#1a1a1a" stroke-width="0.7"/>
<text x="330.25" y="212.85" font-size="4.3" text-anchor="end" font-weight="bold" fill="#1a1a1a" stroke="#1a1a1a" stroke-width="0.18">1000</text>
<line x1="330.95" y1="225.30" x2="334.15" y2="225.30" stroke="#1a1a1a" stroke-width="0.7"/>
<text x="330.25" y="226.85" font-size="4.3" text-anchor="end" font-weight="bold" fill="#1a1a1a" stroke="#1a1a1a" stroke-width="0.18">800</text>
<line x1="330.95" y1="239.40" x2="334.15" y2="239.40" stroke="#1a1a1a" stroke-width="0.7"/>
<text x="330.25" y="240.95" font-size="4.3" text-anchor="end" font-weight="bold" fill="#1a1a1a" stroke="#1a1a1a" stroke-width="0.18">600</text>
<line x1="330.95" y1="253.40" x2="334.15" y2="253.40" stroke="#1a1a1a" stroke-width="0.7"/>
<text x="330.25" y="254.95" font-size="4.3" text-anchor="end" font-weight="bold" fill="#1a1a1a" stroke="#1a1a1a" stroke-width="0.18">400</text>
<line x1="330.95" y1="267.50" x2="334.15" y2="267.50" stroke="#1a1a1a" stroke-width="0.7"/>
<text x="330.25" y="269.05" font-size="4.3" text-anchor="end" font-weight="bold" fill="#1a1a1a" stroke="#1a1a1a" stroke-width="0.18">200</text>
<line x1="330.95" y1="281.60" x2="334.15" y2="281.60" stroke="#1a1a1a" stroke-width="0.7"/>
<text x="330.25" y="283.15" font-size="4.3" text-anchor="end" font-weight="bold" fill="#1a1a1a" stroke="#1a1a1a" stroke-width="0.18">0</text>
<line x1="334.15" y1="166.00" x2="334.15" y2="206.30" stroke="#1a1a1a" stroke-width="0.7"/>
<line x1="330.95" y1="166.00" x2="334.15" y2="166.00" stroke="#1a1a1a" stroke-width="0.7"/>
<text x="330.25" y="167.55" font-size="4.3" text-anchor="end" font-weight="bold" fill="#1a1a1a" stroke="#1a1a1a" stroke-width="0.18">5000</text>
<line x1="330.95" y1="176.20" x2="334.15" y2="176.20" stroke="#1a1a1a" stroke-width="0.7"/>
<text x="330.25" y="177.75" font-size="4.3" text-anchor="end" font-weight="bold" fill="#1a1a1a" stroke="#1a1a1a" stroke-width="0.18">4000</text>
<line x1="330.95" y1="186.30" x2="334.15" y2="186.30" stroke="#1a1a1a" stroke-width="0.7"/>
<text x="330.25" y="187.85" font-size="4.3" text-anchor="end" font-weight="bold" fill="#1a1a1a" stroke="#1a1a1a" stroke-width="0.18">3000</text>
<line x1="330.95" y1="196.30" x2="334.15" y2="196.30" stroke="#1a1a1a" stroke-width="0.7"/>
<text x="330.25" y="197.85" font-size="4.3" text-anchor="end" font-weight="bold" fill="#1a1a1a" stroke="#1a1a1a" stroke-width="0.18">2000</text>
<line x1="330.95" y1="206.30" x2="334.15" y2="206.30" stroke="#1a1a1a" stroke-width="0.7"/>
<text x="330.25" y="207.85" font-size="4.3" text-anchor="end" font-weight="bold" fill="#1a1a1a" stroke="#1a1a1a" stroke-width="0.18">1000</text>
<line x1="333.90" y1="281.60" x2="519.40" y2="281.60" stroke="#1a1a1a" stroke-width="0.7"/>
<text x="313.93" y="221.10" font-size="5.09" text-anchor="middle" font-weight="bold" fill="#111" transform="rotate(-90 313.93 221.10)" stroke="#111" stroke-width="0.18">Nfold relative to GAPDH/bactin</text>
<text x="72.41" y="132.90" font-size="4.2" text-anchor="end" font-weight="normal" fill="#3a3a3a" transform="rotate(-90 72.41 132.90)" textLength="25.8" lengthAdjust="spacing" stroke="#3a3a3a" stroke-width="0.1">Unstimulated</text>
<text x="93.61" y="132.90" font-size="4.2" text-anchor="end" font-weight="normal" fill="#3a3a3a" transform="rotate(-90 93.61 132.90)" stroke="#3a3a3a" stroke-width="0.1">Flu</text>
<text x="114.81" y="132.90" font-size="4.2" text-anchor="end" font-weight="normal" fill="#3a3a3a" transform="rotate(-90 114.81 132.90)" stroke="#3a3a3a" stroke-width="0.1">HIV-AT-2</text>
<text x="136.01" y="132.90" font-size="4.2" text-anchor="end" font-weight="normal" fill="#3a3a3a" transform="rotate(-90 136.01 132.90)" stroke="#3a3a3a" stroke-width="0.1">i-SARS-CoV-2</text>
<text x="157.21" y="132.90" font-size="4.2" text-anchor="end" font-weight="normal" fill="#3a3a3a" transform="rotate(-90 157.21 132.90)" stroke="#3a3a3a" stroke-width="0.1">CMV</text>
<text x="178.41" y="132.90" font-size="4.2" text-anchor="end" font-weight="normal" fill="#3a3a3a" transform="rotate(-90 178.41 132.90)" stroke="#3a3a3a" stroke-width="0.1">LPS</text>
<text x="199.61" y="132.90" font-size="4.2" text-anchor="end" font-weight="normal" fill="#3a3a3a" transform="rotate(-90 199.61 132.90)" stroke="#3a3a3a" stroke-width="0.1">IFNα</text>
<text x="220.81" y="132.90" font-size="4.2" text-anchor="end" font-weight="normal" fill="#3a3a3a" transform="rotate(-90 220.81 132.90)" stroke="#3a3a3a" stroke-width="0.1">IL-1β</text>
<text x="349.52" y="129.30" font-size="4.2" text-anchor="end" font-weight="normal" fill="#3a3a3a" transform="rotate(-90 349.52 129.30)" textLength="25.4" lengthAdjust="spacing" stroke="#3a3a3a" stroke-width="0.1">Unstimulated</text>
<text x="371.14" y="129.30" font-size="4.2" text-anchor="end" font-weight="normal" fill="#3a3a3a" transform="rotate(-90 371.14 129.30)" stroke="#3a3a3a" stroke-width="0.1">Flu</text>
<text x="392.76" y="129.30" font-size="4.2" text-anchor="end" font-weight="normal" fill="#3a3a3a" transform="rotate(-90 392.76 129.30)" stroke="#3a3a3a" stroke-width="0.1">HIV-AT-2</text>
<text x="414.38" y="129.30" font-size="4.2" text-anchor="end" font-weight="normal" fill="#3a3a3a" transform="rotate(-90 414.38 129.30)" stroke="#3a3a3a" stroke-width="0.1">i-SARS-CoV-2</text>
<text x="436.00" y="129.30" font-size="4.2" text-anchor="end" font-weight="normal" fill="#3a3a3a" transform="rotate(-90 436.00 129.30)" stroke="#3a3a3a" stroke-width="0.1">CMV</text>
<text x="457.62" y="129.30" font-size="4.2" text-anchor="end" font-weight="normal" fill="#3a3a3a" transform="rotate(-90 457.62 129.30)" stroke="#3a3a3a" stroke-width="0.1">LPS</text>
<text x="479.24" y="129.30" font-size="4.2" text-anchor="end" font-weight="normal" fill="#3a3a3a" transform="rotate(-90 479.24 129.30)" stroke="#3a3a3a" stroke-width="0.1">IFNα</text>
<text x="500.86" y="129.30" font-size="4.2" text-anchor="end" font-weight="normal" fill="#3a3a3a" transform="rotate(-90 500.86 129.30)" stroke="#3a3a3a" stroke-width="0.1">IL-1β</text>
<text x="59.40" y="285.30" font-size="4.66" text-anchor="end" font-weight="bold" fill="#1a1a1a" transform="rotate(-90 59.40 285.30)" stroke="#1a1a1a" stroke-width="0.15">Unstimulated</text>
<text x="84.25" y="285.30" font-size="4.66" text-anchor="end" font-weight="bold" fill="#1a1a1a" transform="rotate(-90 84.25 285.30)" stroke="#1a1a1a" stroke-width="0.15">Flu</text>
<text x="109.10" y="285.30" font-size="4.66" text-anchor="end" font-weight="bold" fill="#1a1a1a" transform="rotate(-90 109.10 285.30)" stroke="#1a1a1a" stroke-width="0.15">HIV-AT-2</text>
<text x="133.95" y="285.30" font-size="4.66" text-anchor="end" font-weight="bold" fill="#1a1a1a" transform="rotate(-90 133.95 285.30)" stroke="#1a1a1a" stroke-width="0.15">i-SARS-CoV-2</text>
<text x="158.80" y="285.30" font-size="4.66" text-anchor="end" font-weight="bold" fill="#1a1a1a" transform="rotate(-90 158.80 285.30)" stroke="#1a1a1a" stroke-width="0.15">CMV</text>
<text x="183.65" y="285.30" font-size="4.66" text-anchor="end" font-weight="bold" fill="#1a1a1a" transform="rotate(-90 183.65 285.30)" stroke="#1a1a1a" stroke-width="0.15">LPS</text>
<text x="208.50" y="285.30" font-size="4.66" text-anchor="end" font-weight="bold" fill="#1a1a1a" transform="rotate(-90 208.50 285.30)" stroke="#1a1a1a" stroke-width="0.15">IFNα</text>
<text x="233.35" y="285.30" font-size="4.66" text-anchor="end" font-weight="bold" fill="#1a1a1a" transform="rotate(-90 233.35 285.30)" stroke="#1a1a1a" stroke-width="0.15">IL-1β</text>
<text x="379.10" y="291.20" font-size="4.56" text-anchor="middle" font-weight="normal" fill="#222" stroke="#222" stroke-width="0.22">HomoB</text>
<text x="472.20" y="291.20" font-size="4.7" text-anchor="middle" font-weight="normal" fill="#222" stroke="#222" stroke-width="0.22">HeteroAB</text>
<text x="3.00" y="14.30" font-size="8.4" text-anchor="start" font-weight="bold" fill="#0a0a0a" stroke="#0a0a0a" stroke-width="0.35">A</text>
<text x="274.50" y="14.30" font-size="8.4" text-anchor="start" font-weight="bold" fill="#0a0a0a" stroke="#0a0a0a" stroke-width="0.35">B</text>
<text x="7.60" y="174.50" font-size="8.6" text-anchor="start" font-weight="bold" fill="#0a0a0a" stroke="#0a0a0a" stroke-width="0.35">C</text>
<text x="285.00" y="174.10" font-size="8.2" text-anchor="start" font-weight="bold" fill="#0a0a0a" stroke="#0a0a0a" stroke-width="0.35">D</text>
<rect x="504.30" y="5.45" width="6.80" height="3.60" fill="#ffffff" stroke="#444" stroke-width="0.7" rx="0.8"/>
<text x="515.00" y="8.90" font-size="5.0" text-anchor="start" font-weight="normal" fill="#333" stroke="#333" stroke-width="0.14">Unstimulated</text>
<rect x="504.35" y="14.72" width="6.60" height="2.90" fill="#108cc2" stroke="#1d2433" stroke-width="0.9"/>
<text x="515.00" y="17.82" font-size="5.0" text-anchor="start" font-weight="normal" fill="#333" stroke="#333" stroke-width="0.14">Flu</text>
<rect x="504.35" y="23.64" width="6.60" height="2.90" fill="#095995" stroke="#1d2433" stroke-width="0.9"/>
<text x="515.00" y="26.74" font-size="5.0" text-anchor="start" font-weight="normal" fill="#333" stroke="#333" stroke-width="0.14">HIV-AT-2</text>
<rect x="504.35" y="32.56" width="6.60" height="2.90" fill="#1c2c67" stroke="#1d2433" stroke-width="0.9"/>
<text x="515.00" y="35.66" font-size="5.0" text-anchor="start" font-weight="normal" fill="#333" stroke="#333" stroke-width="0.14">i-SARS-CoV-2</text>
<rect x="504.35" y="41.48" width="6.60" height="2.90" fill="#25426b" stroke="#1d2433" stroke-width="0.9"/>
<text x="515.00" y="44.58" font-size="5.0" text-anchor="start" font-weight="normal" fill="#333" stroke="#333" stroke-width="0.14">CMV</text>
<rect x="504.35" y="50.40" width="6.60" height="2.90" fill="#15193d" stroke="#1d2433" stroke-width="0.9"/>
<text x="515.00" y="53.50" font-size="5.0" text-anchor="start" font-weight="normal" fill="#333" stroke="#333" stroke-width="0.14">LPS</text>
<rect x="504.35" y="59.32" width="6.60" height="2.90" fill="#b8b8b8" stroke="#3a3a3a" stroke-width="0.9"/>
<text x="515.00" y="62.42" font-size="5.0" text-anchor="start" font-weight="normal" fill="#333" stroke="#333" stroke-width="0.14">IFNα</text>
<rect x="504.35" y="68.24" width="6.60" height="2.90" fill="#6a6a6a" stroke="#3a3a3a" stroke-width="0.9"/>
<text x="515.00" y="71.34" font-size="5.0" text-anchor="start" font-weight="normal" fill="#333" stroke="#333" stroke-width="0.14">IL-1β</text>
</svg>
</body></html>
